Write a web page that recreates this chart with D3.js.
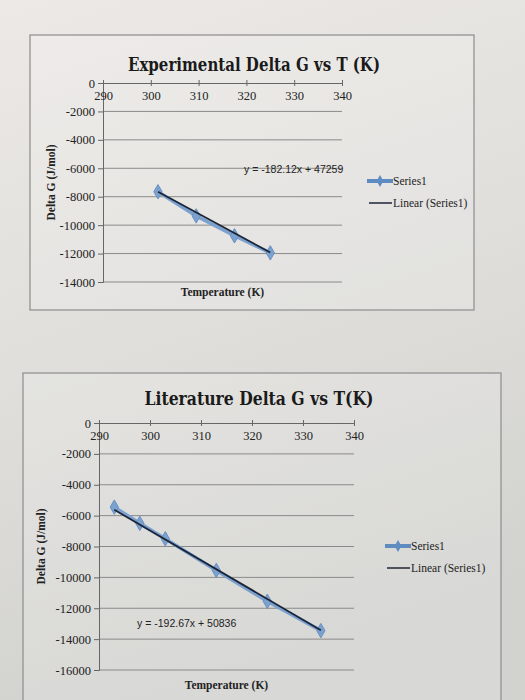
<!DOCTYPE html>
<html>
<head>
<meta charset="utf-8">
<script src="https://cdn.jsdelivr.net/npm/d3@7"></script>
<style>
  body { margin: 0; background: #dddcd9; }
  svg { display: block; }
  .tick text { font-family: "Liberation Serif", serif; font-size: 12.5px; fill: #222; }
</style>
</head>
<body>
<div id="svg"></div>
<script>
var expTemps = [301.5, 309.5, 317.5, 325];
var expDeltaG = [-7650, -9350, -10750, -11950];
var expSlope = -182.12, expIntercept = 47259;

// literature data
var litTemps = [293, 298, 303, 313, 323, 333.5];
var litDeltaG = [-5450, -6500, -7500, -9550, -11550, -13450];
var litSlope = -192.67, litIntercept = 50836;

var xTicks = [290, 300, 310, 320, 330, 340];
var expYTicks = [0, -2000, -4000, -6000, -8000, -10000, -12000, -14000];
var litYTicks = [0, -2000, -4000, -6000, -8000, -10000, -12000, -14000, -16000];

var svgContainer = d3.select("div#svg").append("svg")
    .attr("width", 525)
    .attr("height", 700);

// paper shading
var defs = svgContainer.append("defs");
var grad = defs.append("linearGradient").attr("id", "paper")
    .attr("x1", 0).attr("y1", 0).attr("x2", 0.25).attr("y2", 1);
grad.append("stop").attr("offset", "0%").attr("stop-color", "#ece9e6");
grad.append("stop").attr("offset", "50%").attr("stop-color", "#e0dfdc");
grad.append("stop").attr("offset", "100%").attr("stop-color", "#d2d2cf");
svgContainer.append("rect").attr("width", 525).attr("height", 700).attr("fill", "url(#paper)");

function drawChart(opt) {
    var g = svgContainer.append("g");
    // chart frame
    g.append("rect")
        .attr("x", opt.box[0]).attr("y", opt.box[1])
        .attr("width", opt.box[2]).attr("height", opt.box[3])
        .attr("fill", "#ffffff").attr("fill-opacity", 0.15)
        .attr("stroke", "#8c8c8c").attr("stroke-width", 1.2);

    var x = d3.scaleLinear().domain([290, 340]).range(opt.xRange);
    var y = d3.scaleLinear().domain(opt.yDomain).range(opt.yRange);

    // gridlines
    g.append("g").selectAll("line").data(opt.yTicks.slice(1)).enter().append("line")
        .attr("x1", opt.xRange[0]).attr("x2", opt.xRange[1])
        .attr("y1", function(d) { return y(d); }).attr("y2", function(d) { return y(d); })
        .attr("stroke", "#8a8a8a").attr("stroke-width", 1);

    // y axis
    var yAxis = g.append("g").attr("transform", "translate(" + opt.xRange[0] + ",0)")
        .call(d3.axisLeft(y).tickValues(opt.yTicks).tickSize(5).tickPadding(3)
            .tickFormat(function(d) { return String(d); }));
    yAxis.select(".domain").attr("stroke", "#666");
    yAxis.selectAll(".tick line").attr("stroke", "#666");

    // x axis sits at y = 0
    var xAxis = g.append("g").attr("transform", "translate(0," + y(0) + ")")
        .call(d3.axisBottom(x).tickValues(xTicks).tickSizeInner(3).tickSizeOuter(0).tickPadding(5));
    xAxis.select(".domain").attr("stroke", "#666");
    xAxis.selectAll(".tick line").attr("stroke", "#666").attr("y1", -3);

    // series line + markers
    var pts = opt.temps.map(function(t, i) { return [t, opt.dg[i]]; });
    var line = d3.line().x(function(d) { return x(d[0]); }).y(function(d) { return y(d[1]); });
    g.append("path").datum(pts).attr("d", line)
        .attr("fill", "none").attr("stroke", "#7ba1cf").attr("stroke-width", 3.5);
    g.selectAll(".pt").data(pts).enter().append("path")
        .attr("d", d3.symbol().type(d3.symbolDiamond).size(60))
        .attr("transform", function(d) { return "translate(" + x(d[0]) + "," + y(d[1]) + ")"; })
        .attr("fill", "#7ba1cf").attr("stroke", "#6a90c0");

    // linear trendline
    var tx = d3.extent(opt.temps);
    var trend = tx.map(function(t) { return [t, opt.slope * t + opt.intercept]; });
    g.append("path").datum(trend).attr("d", line)
        .attr("fill", "none").attr("stroke", "#1c2538").attr("stroke-width", 1.8);

    // equation
    g.append("text").attr("x", opt.eqPos[0]).attr("y", opt.eqPos[1])
        .attr("font-family", "Liberation Sans, sans-serif").attr("font-size", 10.5).attr("fill", "#222")
        .text("y = " + opt.slope + "x + " + opt.intercept);

    // title
    g.append("text").attr("x", opt.titlePos[0]).attr("y", opt.titlePos[1])
        .attr("text-anchor", "middle")
        .attr("font-family", "DejaVu Serif, serif").attr("font-weight", "bold").attr("font-size", 19)
        .attr("textLength", opt.titleWidth).attr("lengthAdjust", "spacingAndGlyphs")
        .attr("fill", "#1a1a1a").text(opt.title);

    // axis titles
    g.append("text").attr("x", (opt.xRange[0] + opt.xRange[1]) / 2).attr("y", opt.xTitleY)
        .attr("text-anchor", "middle")
        .attr("font-family", "Liberation Serif, serif").attr("font-weight", "bold").attr("font-size", 11.5)
        .attr("fill", "#222").text("Temperature (K)");
    g.append("text")
        .attr("transform", "translate(" + opt.yTitleX + "," + (opt.yRange[0] + opt.yRange[1]) / 2 + ") rotate(-90)")
        .attr("text-anchor", "middle")
        .attr("font-family", "Liberation Serif, serif").attr("font-weight", "bold").attr("font-size", 11.5)
        .attr("fill", "#222").text("Delta G (J/mol)");

    // legend
    var lx = opt.legendPos[0], ly = opt.legendPos[1];
    g.append("line").attr("x1", lx).attr("x2", lx + 26).attr("y1", ly).attr("y2", ly)
        .attr("stroke", "#5f8cc0").attr("stroke-width", 4);
    g.append("path").attr("d", d3.symbol().type(d3.symbolDiamond).size(40))
        .attr("transform", "translate(" + (lx + 13) + "," + ly + ")").attr("fill", "#5f8cc0");
    g.append("text").attr("x", lx + 26).attr("y", ly + 4)
        .attr("font-family", "Liberation Serif, serif").attr("font-size", 11.5).attr("fill", "#222").text("Series1");
    g.append("line").attr("x1", lx + 2).attr("x2", lx + 25).attr("y1", ly + 22).attr("y2", ly + 22)
        .attr("stroke", "#1c2538").attr("stroke-width", 1.5);
    g.append("text").attr("x", lx + 26).attr("y", ly + 26)
        .attr("font-family", "Liberation Serif, serif").attr("font-size", 11.5).attr("fill", "#222").text("Linear (Series1)");
}

drawChart({
    box: [30, 35, 444, 275],
    title: "Experimental Delta G vs T (K)",
    titlePos: [254, 71], titleWidth: 252,
    temps: expTemps, dg: expDeltaG, slope: expSlope, intercept: expIntercept,
    yTicks: expYTicks, yDomain: [-14000, 0],
    xRange: [103, 342], yRange: [282, 83],
    eqPos: [244, 173], xTitleY: 296, yTitleX: 55,
    legendPos: [367, 181]
});

drawChart({
    box: [23, 373, 478, 340],
    title: "Literature Delta G vs T(K)",
    titlePos: [259, 405], titleWidth: 229,
    temps: litTemps, dg: litDeltaG, slope: litSlope, intercept: litIntercept,
    yTicks: litYTicks, yDomain: [-16000, 0],
    xRange: [99, 354], yRange: [670, 423],
    eqPos: [137, 627], xTitleY: 689, yTitleX: 45,
    legendPos: [385, 546]
});
</script>
</body>
</html>
